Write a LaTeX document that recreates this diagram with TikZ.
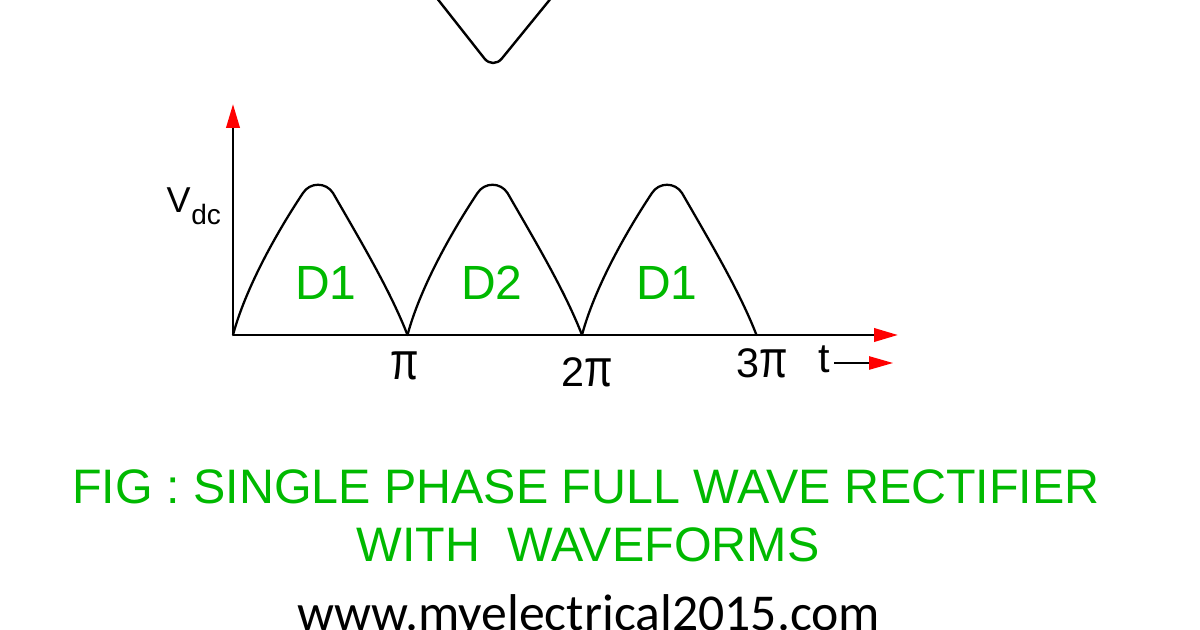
\documentclass[tikz,border=0pt]{standalone}
\usepackage{fontspec}
\usepackage{graphicx}
\setmainfont{Liberation Sans}
\newfontfamily\urlfont{Carlito}
\usetikzlibrary{arrows.meta}
\definecolor{capgreen}{RGB}{0,185,0}
\newcommand{\tallpi}{\scalebox{1}[1.27]{π}}
\begin{document}
\begin{tikzpicture}[x=0.75pt,y=-0.75pt,
  wave/.style={line width=1.7pt,line join=round,line cap=round},
  axisline/.style={line width=2.1pt,-{Triangle[length=18pt,width=10pt,color=red]}},
  greenlbl/.style={text=capgreen,inner sep=0pt,font=\fontsize{36}{42}\selectfont},
  ticklbl/.style={inner sep=0pt,anchor=base,font=\fontsize{31}{36}\selectfont},
  caption/.style={text=capgreen,inner sep=0pt,anchor=base,font=\fontsize{36.3}{44}\selectfont}]
\useasboundingbox (0,0) rectangle (1200,630);
% partial waveform at top
\draw[wave,line width=1.8pt,rounded corners=10.5pt] (436,-3) -- (493,69.4) -- (552,-3);
% axes
\coordinate (o) at (233,335);
\coordinate (ytip) at (233,104);
\coordinate (xtip) at (898,335);
\draw[axisline] (o) -- (ytip);
\draw[axisline] (o) -- (xtip);
% rectified humps
\foreach \s in {0,174.5,349}{
  \begin{scope}[shift={(\s,0)}]
  \draw[wave] (233,335) .. controls (245,290) and (275,235) .. (303,193)
     .. controls (310,182) and (326,182) .. (333,193)
     .. controls (360,240) and (390,290) .. (407.5,335);
  \end{scope}
}
% diode labels
\node[greenlbl,anchor=base] (d1a) at (326,300) {D1};
\node[greenlbl,anchor=base] (d2) at (492,300) {D2};
\node[greenlbl,anchor=base] (d1b) at (667,300) {D1};
% axis labels
\node[inner sep=0pt,anchor=base east,font=\fontsize{27}{32}\selectfont] (v) at (191,213) {V};
\node[inner sep=0pt,anchor=base west,font=\fontsize{21}{26}\selectfont] (dc) at (191,225) {dc};
\node[ticklbl] (pi1) at (405,380) {\tallpi};
\node[ticklbl] (pi2) at (587,387) {2\tallpi};
\node[ticklbl] (pi3) at (762,378) {3\tallpi};
\node[ticklbl,anchor=base west] (t) at (818,373) {t};
\coordinate (tend) at (893,363);
\draw[axisline,line width=1.2pt] (t.east|-tend) ++(4,0) coordinate (tstart) -- (tend);
% caption
\node[caption] (cap1) at (586,504) {FIG : SINGLE PHASE FULL WAVE RECTIFIER};
\node[caption] (cap2) at (588,562) {WITH\ \ WAVEFORMS};
\node[inner sep=0pt,anchor=base west,font=\urlfont\fontsize{38.8}{44}\selectfont] (url) at (297,631) {www.myelectrical2015.com};
\end{tikzpicture}
\end{document}
